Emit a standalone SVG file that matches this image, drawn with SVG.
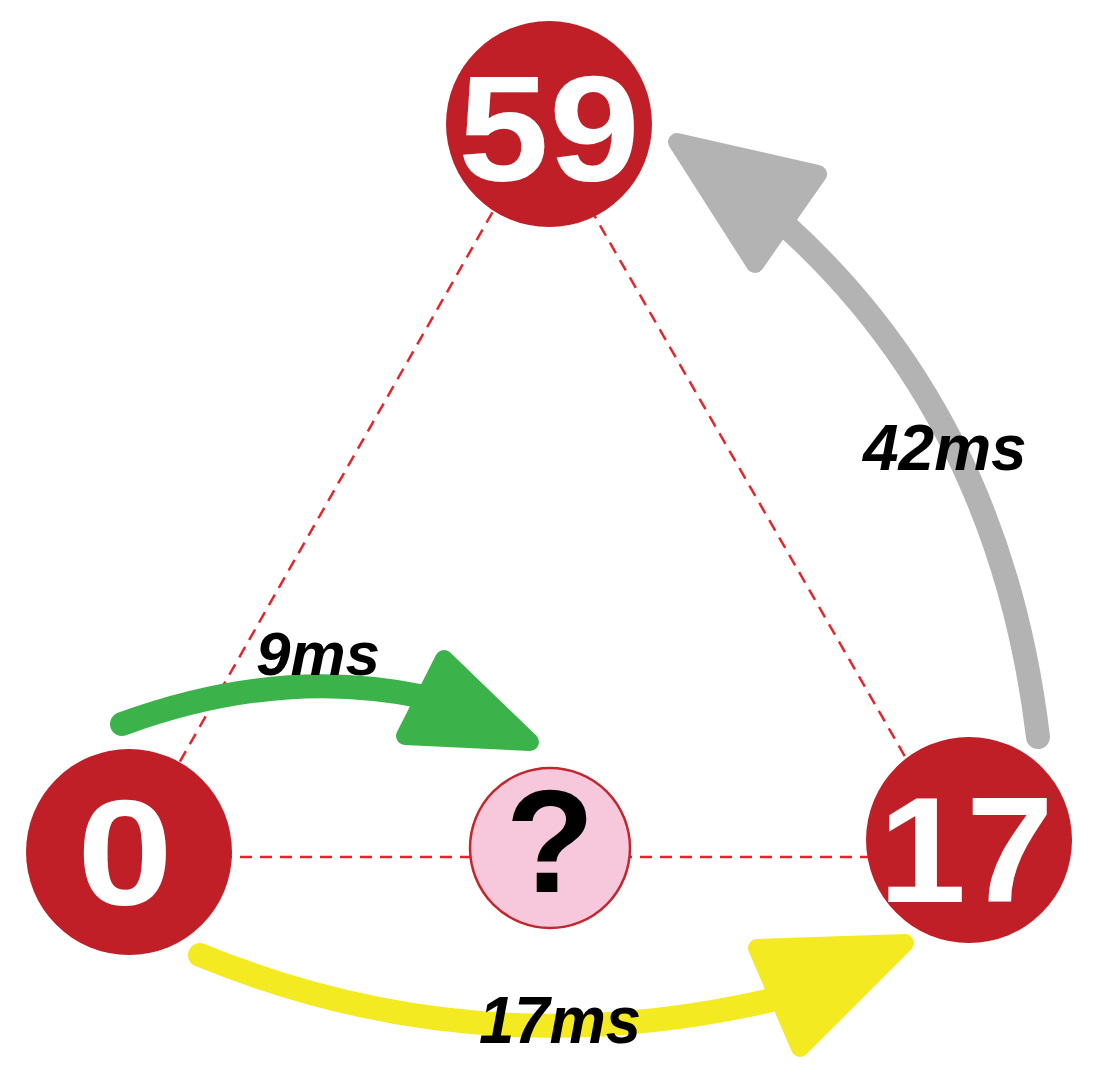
<svg xmlns="http://www.w3.org/2000/svg" width="1102" height="1088" viewBox="0 0 1102 1088">
<style>
.dash{stroke:#e3262b;stroke-width:2.5;stroke-dasharray:12 8;fill:none}
.node{fill:#c01f27}
.num{font-family:"Liberation Sans",Arial,sans-serif;font-weight:bold;font-size:150px;fill:#fff;text-anchor:middle}
.lbl{font-family:"Liberation Sans",Arial,sans-serif;font-weight:bold;font-style:italic;fill:#000}
.shaft{fill:none;stroke-width:24;stroke-linecap:round}
.head{stroke-linejoin:round;stroke-width:18}
</style>
<rect width="1102" height="1088" fill="#fff"/>
<g id="connectors">
  <line class="dash" x1="170" y1="779" x2="500" y2="199"/>
  <line class="dash" x1="590" y1="208" x2="915" y2="774"/>
  <line class="dash" x1="220" y1="857" x2="880" y2="857"/>
  <g id="arrow-9ms">
    <path class="shaft" stroke="#3bb34a" d="M122,724 Q280,666 425,697"/>
    <polygon class="head" fill="#3bb34a" stroke="#3bb34a" points="444,659 530,742 405,736"/>
  </g>
  <g id="arrow-42ms">
    <path class="shaft" stroke="#b3b3b3" d="M1038,737 Q1000,420 786,226"/>
    <polygon class="head" fill="#b3b3b3" stroke="#b3b3b3" points="677,142 818,174 755,264"/>
  </g>
  <g id="arrow-17ms">
    <path class="shaft" stroke="#f4ea22" d="M200,955 Q480,1070 780,998"/>
    <polygon class="head" fill="#f4ea22" stroke="#f4ea22" points="757,948 905,943 800,1048"/>
  </g>
  <text class="lbl" x="256" y="675" font-size="62">9ms</text>
  <text class="lbl" x="863" y="470" font-size="64">42ms</text>
  <text class="lbl" transform="translate(479,1043) scale(0.96,1)" x="0" y="0" font-size="66">17ms</text>
</g>
<g id="node-59">
  <circle class="node" cx="549" cy="124" r="103"/>
  <text class="num" transform="translate(549,181) scale(1.09,1)">59</text>
</g>
<g id="node-0">
  <circle class="node" cx="129" cy="852" r="103"/>
  <text class="num" transform="translate(125,905) scale(1.15,1)">0</text>
</g>
<g id="node-17">
  <circle class="node" cx="969" cy="840" r="103"/>
  <text class="num" transform="translate(966,902) scale(1.05,1)">17</text>
</g>
<g id="node-q">
  <circle cx="550" cy="848" r="80" fill="#f7c7dc" stroke="#c1272d" stroke-width="2.5"/>
  <text x="550" y="892" font-family="Liberation Sans, Arial, sans-serif" font-weight="bold" font-size="146" fill="#000" text-anchor="middle">?</text>
</g>
</svg>
